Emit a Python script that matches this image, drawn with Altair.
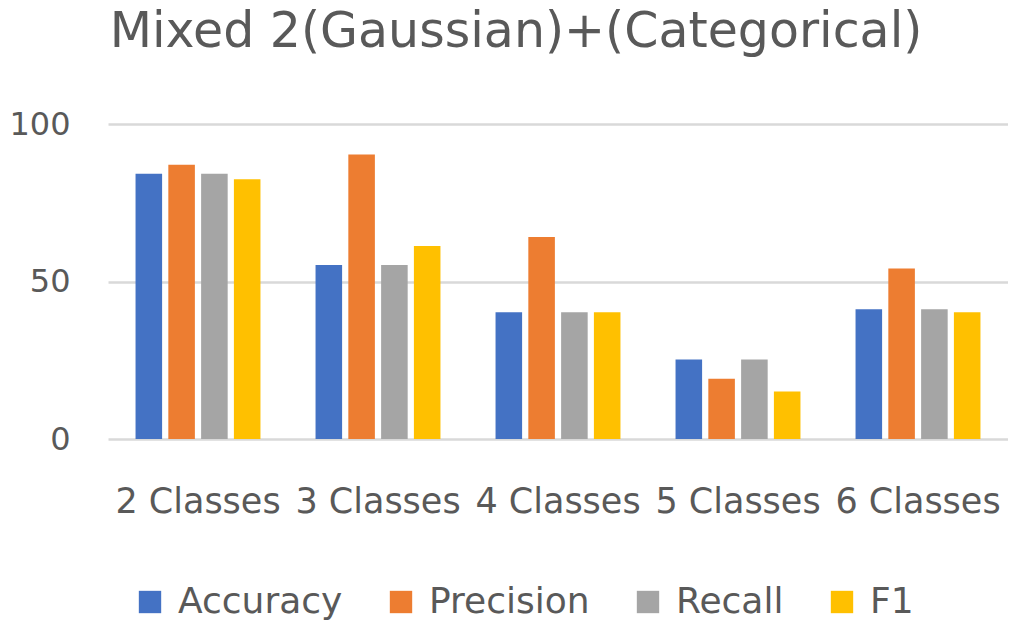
import altair as alt
import pandas as pd

categories = ["2 Classes", "3 Classes", "4 Classes", "5 Classes", "6 Classes"]
metrics = ["Accuracy", "Precision", "Recall", "F1"]
accuracy = [84.2, 55.2, 40.2, 25.2, 41.2]
precision = [87.1, 90.3, 64.1, 19.1, 54.1]
recall = [84.2, 55.2, 40.2, 25.2, 41.2]
f1 = [82.5, 61.3, 40.2, 15.1, 40.2]
colors = ["#4472C4", "#ED7D31", "#A5A5A5", "#FFC000"]

series = {"Accuracy": accuracy, "Precision": precision, "Recall": recall, "F1": f1}
rows = []
for m in metrics:
    for c, v in zip(categories, series[m]):
        rows.append({"category": c, "metric": m, "value": v})
df = pd.DataFrame(rows)

FONT = "DejaVu Sans"
TXT = "#595959"

chart = (
    alt.Chart(df)
    .mark_bar()
    .encode(
        x=alt.X(
            "category:N",
            sort=categories,
            title=None,
            scale=alt.Scale(paddingInner=0.306, paddingOuter=0.153),
            axis=alt.Axis(
                labelAngle=0,
                labelFontSize=35,
                labelFont=FONT,
                labelColor=TXT,
                labelPadding=45,
                labelOverlap=False,
                labelLimit=300,
                ticks=False,
                domain=False,
                grid=False,
            ),
        ),
        xOffset=alt.XOffset(
            "metric:N", sort=metrics, scale=alt.Scale(paddingInner=0.19, paddingOuter=0)
        ),
        y=alt.Y(
            "value:Q",
            title=None,
            scale=alt.Scale(domain=[0, 100], nice=False),
            axis=alt.Axis(
                values=[0, 50, 100],
                labelFontSize=32,
                labelFont=FONT,
                labelColor=TXT,
                labelPadding=38,
                ticks=False,
                domain=False,
                grid=True,
                gridColor="#D9D9D9",
                gridWidth=2.5,
            ),
        ),
        color=alt.Color(
            "metric:N",
            sort=metrics,
            scale=alt.Scale(domain=metrics, range=colors),
            legend=alt.Legend(
                title=None,
                orient="none",
                direction="horizontal",
                legendX=24,
                legendY=460,
                symbolType="square",
                symbolSize=500,
                symbolStrokeWidth=0,
                labelFontSize=36,
                labelFont=FONT,
                labelColor=TXT,
                labelOffset=10,
                labelLimit=400,
                columnPadding=40,
            ),
        ),
    )
    .properties(
        width=900,
        height=315,
        autosize=alt.AutoSizeParams(type="none"),
        padding={"left": 100, "top": 116, "right": 0, "bottom": 181},
        title=alt.TitleParams(
            "Mixed 2(Gaussian)+(Categorical)",
            fontSize=49,
            font=FONT,
            fontWeight="normal",
            color=TXT,
            anchor="middle",
            frame="group",
            dx=-42,
            offset=51,
        ),
    )
    .configure_view(stroke=None)
)

chart.save("out.html", embed_options={"renderer": "svg", "actions": False})
